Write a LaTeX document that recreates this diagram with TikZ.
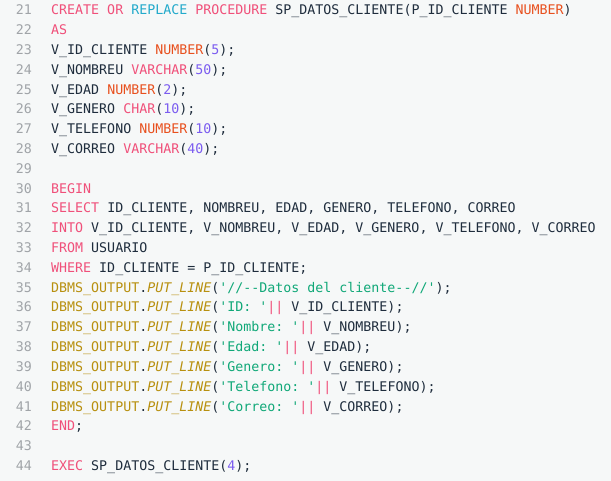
\documentclass[tikz,border=0pt]{standalone}
\usepackage{fontspec}
\setmonofont{DejaVu Sans Mono}
\definecolor{bg}{HTML}{F6F8F8}
\definecolor{kw}{HTML}{F0507A}
\definecolor{kc}{HTML}{22AACB}
\definecolor{ty}{HTML}{E8501E}
\definecolor{nm}{HTML}{7B5CF0}
\definecolor{tx}{HTML}{1F2D3D}
\definecolor{ol}{HTML}{B8900F}
\definecolor{st}{HTML}{10A878}
\definecolor{ln}{HTML}{A0A4A8}
\newcommand{\K}[1]{\textcolor{kw}{#1}}
\newcommand{\T}[1]{\textcolor{ty}{#1}}
\newcommand{\N}[1]{\textcolor{nm}{#1}}
\newcommand{\Sx}[1]{\textcolor{st}{#1}}
\newcommand{\PL}{\textcolor{ol}{DBMS\_OUTPUT}.\textcolor{ol}{\itshape PUT\_LINE}(}
\newcommand{\OR}{\textcolor{kw}{||}}
\tikzset{code/.style={anchor=base west,inner sep=0,font=\ttfamily\fontsize{13.3}{16}\selectfont,text=tx},
num/.style={anchor=base east,inner sep=0,font=\ttfamily\fontsize{13.3}{16}\selectfont,text=ln}}
\begin{document}
\begin{tikzpicture}[x=1pt,y=-1pt]
\fill[bg] (0,0) rectangle (611,481);
\useasboundingbox (0,0) rectangle (611,481);
\foreach \n/\t in {
21/{\K{CREATE OR} \textcolor{kc}{REPLACE} \K{PROCEDURE} SP\_DATOS\_CLIENTE(P\_ID\_CLIENTE \T{NUMBER})},
22/{\K{AS}},
23/{V\_ID\_CLIENTE \T{NUMBER}(\N{5});},
24/{V\_NOMBREU \K{VARCHAR}(\N{50});},
25/{V\_EDAD \T{NUMBER}(\N{2});},
26/{V\_GENERO \K{CHAR}(\N{10});},
27/{V\_TELEFONO \T{NUMBER}(\N{10});},
28/{V\_CORREO \K{VARCHAR}(\N{40});},
29/{},
30/{\K{BEGIN}},
31/{\K{SELECT} ID\_CLIENTE, NOMBREU, EDAD, GENERO, TELEFONO, CORREO},
32/{\K{INTO} V\_ID\_CLIENTE, V\_NOMBREU, V\_EDAD, V\_GENERO, V\_TELEFONO, V\_CORREO},
33/{\K{FROM} USUARIO},
34/{\K{WHERE} ID\_CLIENTE = P\_ID\_CLIENTE;},
35/{\PL\Sx{'//--Datos del cliente--//'});},
36/{\PL\Sx{'ID: '}\OR{} V\_ID\_CLIENTE);},
37/{\PL\Sx{'Nombre: '}\OR{} V\_NOMBREU);},
38/{\PL\Sx{'Edad: '}\OR{} V\_EDAD);},
39/{\PL\Sx{'Genero: '}\OR{} V\_GENERO);},
40/{\PL\Sx{'Telefono: '}\OR{} V\_TELEFONO);},
41/{\PL\Sx{'Correo: '}\OR{} V\_CORREO);},
42/{\K{END};},
43/{},
44/{\K{EXEC} SP\_DATOS\_CLIENTE(\N{4});}}{
  \pgfmathsetmacro{\yy}{15+(\n-21)*19.8}
  \node[num] (n\n) at (32,\yy) {\n};
  \node[code] (l\n) at (51,\yy) {\strut\t};
}
\end{tikzpicture}
\end{document}
